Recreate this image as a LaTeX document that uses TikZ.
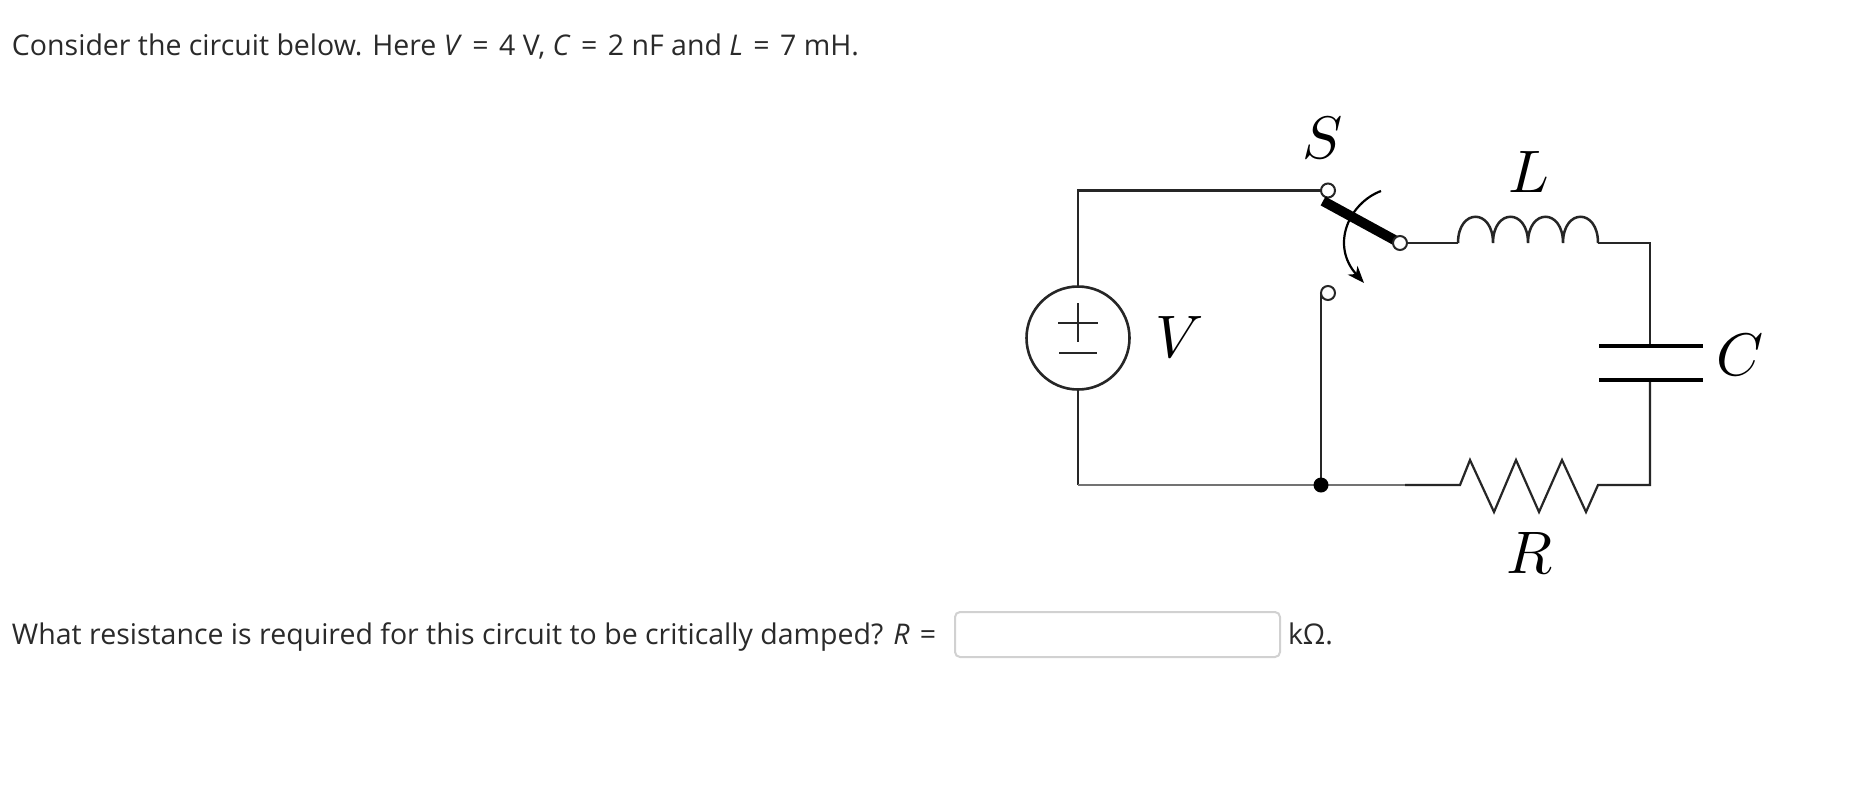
\documentclass[tikz,border=0pt]{standalone}
\usepackage{fontspec}
\setmainfont{Open Sans}
\usetikzlibrary{arrows.meta}
\definecolor{txt}{HTML}{2A2A2A}
\definecolor{wire}{HTML}{262626}
\newcommand{\eqgap}{\hspace{3pt}}
\tikzset{
  every node/.style={inner sep=0pt,outer sep=0pt},
  wireline/.style={draw=wire,line width=2.2pt,line join=miter},
  softwire/.style={draw=black!55,line width=2.2pt},
  terminal/.style={circle,draw=wire,fill=white,line width=2pt,minimum size=14pt},
  platecap/.style={draw=black,line width=3.8pt},
  question/.style={anchor=base west,text=txt,font=\fontsize{28.5}{34}\selectfont},
  symlabel/.style={text=black,scale=6},
  inputbox/.style={draw=black!18,line width=2pt,rounded corners=5pt,fill=white}
}
\begin{document}
\begin{tikzpicture}[x=1pt,y=-1pt]
\useasboundingbox (0,0) rectangle (1862,788);
\fill[white] (0,0) rectangle (1862,788);
% text
\node[question] (intro) at (12,55) {Consider the circuit below. Here \textit{V}\eqgap{} =\eqgap{} 4 V, \textit{C}\eqgap{} =\eqgap{} 2 nF and \textit{L}\eqgap{} =\eqgap{} 7 mH.};
\node[question] (ask) at (12,644) {What resistance is required for this circuit to be critically damped? \textit{R}\eqgap{} =};
\node[question] (unit) at (1288,644) {k\symbol{"03A9}.};
\draw[inputbox] (955,612) rectangle (1280,657);
% nodes
\node[circle,draw=wire,line width=2.6pt,minimum size=103pt] (src) at (1078,338) {};
\coordinate (tl) at (1078,190.5);
\coordinate (bl) at (1078,485);
\coordinate (junction) at (1321,485);
\coordinate (soft) at (1405,485);
\coordinate (rs) at (1460,485);
\coordinate (re) at (1598,485);
\coordinate (br) at (1650,485);
\coordinate (tr) at (1650,243);
\coordinate (ls) at (1458,243);
\coordinate (le) at (1598,243);
\coordinate (capt) at (1650,346);
\coordinate (capb) at (1650,380);
\coordinate (barstart) at (1323,201);
\coordinate (wirebot) at (1321,293);
\coordinate (arcs) at (1381,191);
\coordinate (arce) at (1364,283);
\coordinate (pa) at (1058,323);
\coordinate (pb) at (1098,323);
\coordinate (pc) at (1078,303);
\coordinate (pd) at (1078,342);
\coordinate (ma) at (1059,353);
\coordinate (mb) at (1097,353);
\coordinate (cl1) at (1599,346);
\coordinate (cr1) at (1703,346);
\coordinate (cl2) at (1599,380);
\coordinate (cr2) at (1703,380);
% sign
\draw[line width=1.8pt,draw=wire] (pa) -- (pb) (pc) -- (pd) (ma) -- (mb);
% wires
\node[terminal] (st) at (1328,190.5) {};
\node[terminal] (sb) at (1328,293) {};
\draw[wireline] (src.north) -- (tl) -- (st.west);
\draw[wireline] (src.south) -- (bl);
\draw[softwire] (bl) -- (junction) -- (soft);
\draw[wireline] (soft) -- (rs) -- (1470,460) -- (1494,512) -- (1516,460) -- (1539,512) -- (1562,460) -- (1586,512) -- (re) -- (br) -- (capb);
\draw[wireline] (wirebot) -- (junction);
\node[circle,fill=black,minimum size=15pt] (dot) at (junction) {};
\draw[wireline] (capt) -- (tr) -- (le);
\draw[wireline,line width=2.5pt] (ls)
  .. controls (1458,208) and (1493,208) .. (1493,243)
  .. controls (1493,208) and (1528,208) .. (1528,243)
  .. controls (1528,208) and (1563,208) .. (1563,243)
  .. controls (1563,208) and (1598,208) .. (le);
\draw[platecap] (cl1) -- (cr1);
\draw[platecap] (cl2) -- (cr2);
% switch
\draw[line width=2.2pt,draw=black,-{Stealth[length=17pt,width=13pt,inset=5pt]}] (arcs) .. controls (1349,203) and (1330,245) .. (arce);
\node[circle,minimum size=1pt] (sw) at (1400,243) {};
\draw[black,line width=10pt] (barstart) -- (sw.center);
\node[terminal] (pivot) at (1400,243) {};
\draw[wireline] (pivot.east) -- (ls);
\draw[wireline] (wirebot) -- (sb.west);
\fill[white] (sb.center) circle (5pt);
% labels
\node[symlabel] (S) at (1323,138) {$S$};
\node[symlabel] (L) at (1529,172) {$L$};
\node[symlabel] (V) at (1180,337) {$V$};
\node[symlabel] (C) at (1740,355) {$C$};
\node[symlabel] (R) at (1529,553) {$R$};
\end{tikzpicture}
\end{document}
